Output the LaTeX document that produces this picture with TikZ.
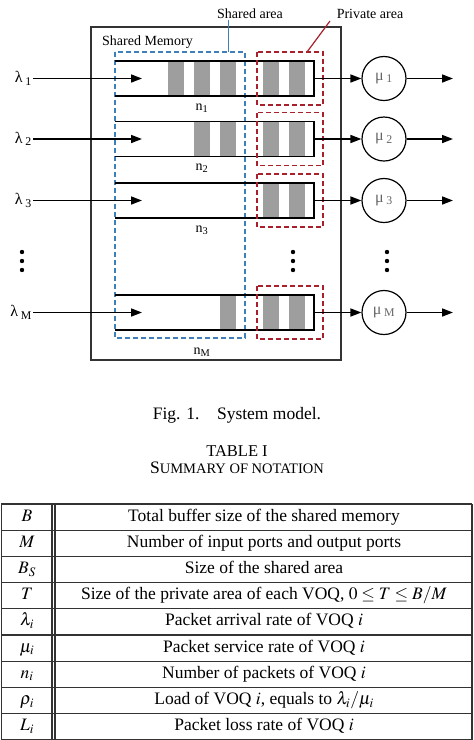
\documentclass[tikz,border=0pt]{standalone}
\usepackage{mathptmx}
\usepackage[no-math]{fontspec}
\setmainfont{Liberation Serif}
\usepackage{tikz}
\usetikzlibrary{positioning, arrows.meta}
\definecolor{SharedBlue}{RGB}{62,128,186}
\definecolor{PrivateRed}{RGB}{168,32,44}
\definecolor{PacketGray}{RGB}{158,158,158}
\tikzstyle{flow} = [line width=1.6pt, -{Triangle[length=11pt,width=8pt]}]
\tikzstyle{server} = [circle, draw, line width=1.2pt, minimum size=44pt, inner sep=0pt, text=black!60]
\tikzstyle{figtext} = [font=\fontsize{14}{16}\selectfont, inner sep=1pt]
\tikzstyle{greektext} = [font=\fontsize{16}{18}\selectfont, inner sep=1pt]
\tikzstyle{tabtext} = [font=\fontsize{17.5}{21}\selectfont, inner sep=0pt, text height=12.5pt, text depth=4.5pt]

\begin{document}
\begin{tikzpicture}[x=1pt, y=-1pt]
  \useasboundingbox (0,0) rectangle (474,740);

  % Shared memory box and areas
  \draw[line width=1.2pt, black!80] (91,27) rectangle (341,360);
  \node[figtext, anchor=west] (memlbl) at (101,42) {Shared Memory};
  \draw[SharedBlue, line width=1.4pt, dash pattern=on 5pt off 3pt] (115,52) rectangle (245,338);

  % Labels
  \node[figtext] (sharedlbl) at (250,14) {Shared area};
  \node[figtext] (privlbl) at (370,14) {Private area};
  \coordinate (sa) at (228,52);
  \coordinate (pl) at (330,21);
  \coordinate (pa) at (307,52);
  \draw[SharedBlue, line width=0.9pt] (sa |- sharedlbl.south) -- (sa);
  \draw[PrivateRed, line width=1.2pt] (pl) -- (pa);

  % Queues
  \foreach \r/\yc/\ny/\sub/\pk in {1/78.5/108/1/{168,194,220,263,289}, 2/139/168/2/{194,220,263,289},
                                   3/200.5/230/3/{263,289}, 4/312.5/352/M/{220,263,289}} {
    \foreach \p in \pk
      \fill[PacketGray] (\p,\yc-17.5) rectangle (\p+16,\yc+17.5);
    \draw[line width=1.2pt] (115,\yc-17.5) -- (314,\yc-17.5) -- (314,\yc+17.5) -- (115,\yc+17.5);
    \draw[PrivateRed, line width=1.4pt, dash pattern=on 5pt off 3pt] (257,\yc-26.5) rectangle (323,\yc+26.5);
    \node[figtext] (n\r) at (202,\ny) {n\textsubscript{\sub}};
    % arrivals
    \node[greektext, anchor=east] (lam\r) at (33,\yc) {λ\,\textsubscript{\sub}};
    \coordinate (in\r) at (142,\yc);
    \draw[flow] (lam\r) -- (in\r);
    % service
    \coordinate (out\r) at (314,\yc);
    \node[server, greektext] (mu\r) at (384,\yc) {μ\,\textsubscript{\sub}};
    \coordinate (end\r) at (453,\yc);
    \draw[flow] (out\r) -- (mu\r);
    \draw[flow] (mu\r) -- (end\r);
  }

  % Dots
  \foreach \x in {22,293,387}
    \foreach \y in {252,261,270}
      \fill (\x,\y) circle (2.2);

  % Caption
  \node[tabtext] (cap) at (237,415) {Fig. 1.\quad System model.};
  \node[tabtext, font=\fontsize{16.5}{20}\selectfont] (tabno) at (237,452) {TABLE I};
  \node[tabtext, font=\fontsize{17.5}{20}\selectfont] (tabname) at (237,469)
    {S{\fontsize{14.5}{16}\selectfont UMMARY OF NOTATION}};

  % Table
  \foreach \k in {0,...,9}
    \draw[line width=1.1pt, black!80] (1,504+26.2*\k) -- (472,504+26.2*\k);
  \foreach \x in {1.5,52,55,472}
    \draw[line width=1.1pt, black!80] (\x,504) -- (\x,739.8);
  \foreach \s/\txt [count=\k from 0] in {B/Total buffer size of the shared memory,
      M/Number of input ports and output ports,
      B_S/Size of the shared area,
      T/{Size of the private area of each VOQ, $0 \le T \le B/M$},
      \lambda_i/Packet arrival rate of VOQ $i$,
      \mu_i/Packet service rate of VOQ $i$,
      n_i/Number of packets of VOQ $i$,
      \rho_i/{Load of VOQ $i$, equals to $\lambda_i/\mu_i$},
      L_i/Packet loss rate of VOQ $i$} {
    \node[tabtext] (sym\k) at (27,517.1+26.2*\k) {$\s$};
    \node[tabtext] (desc\k) at (264,517.1+26.2*\k) {\txt};
  }
\end{tikzpicture}
\end{document}
